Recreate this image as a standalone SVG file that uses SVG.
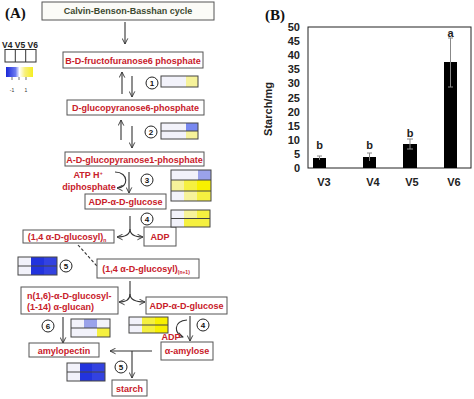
<svg xmlns="http://www.w3.org/2000/svg" width="474" height="399" viewBox="0 0 474 399">
<defs>
<style>
.box{fill:#fff;stroke:#555;stroke-width:1}
.t{font-family:"Liberation Sans",Arial,sans-serif;font-weight:bold;font-size:9px;fill:#c8202a;text-anchor:middle}
.lbl{font-family:"Liberation Serif","Times New Roman",serif;font-weight:bold;font-size:15px;fill:#111}
.ar{fill:none;stroke:#333;stroke-width:1.1;marker-end:url(#ah)}
.ln{fill:none;stroke:#333;stroke-width:1.1}
.cir{fill:#fff;stroke:#222;stroke-width:1}
.num{font-family:"Liberation Sans",Arial,sans-serif;font-weight:bold;font-size:8px;fill:#111;text-anchor:middle}
.hm{fill:none;stroke:#444;stroke-width:1}
.ax{font-family:"Liberation Sans",Arial,sans-serif;font-weight:bold;font-size:11px;fill:#222}
.w{fill:#f2f2fa}.y1{fill:#f6f29a}.y2{fill:#f5f040}.y3{fill:#f8f000}.b1{fill:#9aa2ea}.b2{fill:#2233dd}.b3{fill:#3342e0}.b4{fill:#7888f0}
</style>
<marker id="ah" viewBox="0 0 10 10" refX="9" refY="5" markerWidth="7" markerHeight="7" orient="auto" markerUnits="userSpaceOnUse">
<path d="M1,1 L9,5 L1,9" fill="none" stroke="#333" stroke-width="1.3"/>
</marker>
<linearGradient id="grad" x1="0" x2="1" y1="0" y2="0">
<stop offset="0" stop-color="#1a28d8"/><stop offset="0.35" stop-color="#6a78f0"/><stop offset="0.5" stop-color="#ffffff"/><stop offset="0.7" stop-color="#f8f07a"/><stop offset="1" stop-color="#f5ee20"/>
</linearGradient>
</defs>
<rect width="474" height="399" fill="#fff"/>

<text class="lbl" x="5" y="18">(A)</text>
<text class="lbl" x="265" y="20">(B)</text>

<g id="legend">
<text x="2" y="48" font-family="Liberation Sans,Arial,sans-serif" font-weight="bold" font-size="8.5" fill="#222">V4 V5 V6</text>
<rect x="5" y="49.5" width="31" height="12.5" fill="#fff" stroke="#333"/>
<line x1="15.3" y1="49.5" x2="15.3" y2="62" stroke="#333"/>
<line x1="25.7" y1="49.5" x2="25.7" y2="62" stroke="#333"/>
<rect x="6" y="67" width="27" height="10" fill="url(#grad)"/>
<g stroke="#333" stroke-width="0.7"><line x1="12" y1="77" x2="12" y2="80"/><line x1="19" y1="77" x2="19" y2="80"/><line x1="26" y1="77" x2="26" y2="80"/></g>
<text x="12" y="92" font-family="Liberation Sans,Arial,sans-serif" font-size="5" fill="#333" text-anchor="middle">-1</text>
<text x="26" y="92" font-family="Liberation Sans,Arial,sans-serif" font-size="5" fill="#333" text-anchor="middle">1</text>
</g>

<g id="connectors">
<path class="ar" d="M125,22 L125,44"/>
<path class="ar" d="M122,94 L122,72"/>
<path class="ar" d="M132,76 L132,97"/>
<path class="ar" d="M121,140 L121,120"/>
<path class="ar" d="M132,126 L132,148"/>
<path class="ar" d="M115,172 C129,172 129,188 117,188"/>
<path class="ar" d="M129,172 L129,193"/>
<path class="ln" d="M130,216 L130,229"/>
<path class="ar" d="M130,229 Q130,237 117,237"/>
<path class="ar" d="M130,229 Q130,237 143,237"/>
<path class="ln" d="M78,245 L97,266" stroke-dasharray="3,2"/>
<path class="ln" d="M130,281 L130,294"/>
<path class="ar" d="M130,294 Q130,302 119,302"/>
<path class="ar" d="M130,294 Q130,302 145,302"/>
<path class="ar" d="M63,317 L63,343"/>
<path class="ar" d="M190,316 L190,341"/>
<path class="ar" d="M187,320 C173,321 174,334 183,337"/>
<path class="ar" d="M152,351 L110,351"/>
<path class="ar" d="M132,351 L132,378"/>
</g>

<g id="n_calvin"><rect x="42" y="2" width="172" height="18" fill="#fbfbf7" stroke="#555"/><text x="128" y="14" class="t" style="fill:#3d4a30">Calvin-Benson-Basshan cycle</text></g>
<g id="n_f6p"><rect class="box" x="63" y="52" width="140" height="16"/><text class="t" x="133" y="63.5">B-D-fructofuranose6 phosphate</text></g>
<g id="n_g6p"><rect class="box" x="67" y="100" width="137" height="15"/><text class="t" x="135.5" y="111">D-glucopyranose6-phosphate</text></g>
<g id="n_g1p"><rect class="box" x="65" y="152" width="139" height="14"/><text class="t" x="134.5" y="162.5">A-D-glucopyranose1-phosphate</text></g>
<g id="n_atp"><text class="t" x="88" y="178">ATP H<tspan font-size="5" dy="-3">+</tspan></text><text class="t" x="89" y="190">diphosphate</text></g>
<g id="n_adpg"><rect class="box" x="85" y="194" width="81" height="15"/><text class="t" x="125.5" y="205">ADP-α-D-glucose</text></g>
<g id="n_glcn"><rect class="box" x="23" y="230" width="91" height="13"/><text class="t" x="67" y="240">(1,4 α-D-glucosyl)<tspan font-size="5" dy="2">n</tspan></text></g>
<g id="n_adp"><rect class="box" x="144" y="227" width="32" height="19"/><text class="t" x="160" y="240">ADP</text></g>
<g id="n_glcn1"><rect class="box" x="97" y="259" width="102" height="19"/><text class="t" x="146" y="271.5">(1,4 α-D-glucosyl)<tspan font-size="5" dy="2">(n+1)</tspan></text></g>
<g id="n_glucan"><rect class="box" x="21" y="287" width="97" height="27"/><text class="t" x="27" y="299" style="text-anchor:start">n(1,6)-α-D-glucosyl-</text><text class="t" x="27" y="310" style="text-anchor:start">(1-14) α-glucan)</text></g>
<g id="n_adpg2"><rect class="box" x="146" y="297" width="81" height="17"/><text class="t" x="186.5" y="309">ADP-α-D-glucose</text></g>
<g id="n_adp2"><text class="t" x="171" y="340">ADP</text></g>
<g id="n_amylopectin"><rect class="box" x="29" y="343" width="70" height="14"/><text class="t" x="64" y="353.5">amylopectin</text></g>
<g id="n_amylose"><rect class="box" x="161" y="342" width="52" height="18"/><text class="t" x="187" y="354">α-amylose</text></g>
<g id="n_starch"><rect class="box" x="112" y="380" width="35" height="16"/><text class="t" x="129.5" y="391.5">starch</text></g>

<g id="steps">
<circle class="cir" cx="152" cy="83" r="6"/><text class="num" x="152" y="86">1</text>
<circle class="cir" cx="151" cy="132" r="6"/><text class="num" x="151" y="135">2</text>
<circle class="cir" cx="147" cy="180" r="6"/><text class="num" x="147" y="183">3</text>
<circle class="cir" cx="147" cy="219" r="6"/><text class="num" x="147" y="222">4</text>
<circle class="cir" cx="66" cy="266" r="6"/><text class="num" x="66" y="269">5</text>
<circle class="cir" cx="48" cy="326" r="6"/><text class="num" x="48" y="329">6</text>
<circle class="cir" cx="203" cy="325" r="6"/><text class="num" x="203" y="328">4</text>
<circle class="cir" cx="121" cy="367" r="6"/><text class="num" x="121" y="370">5</text>
</g>

<g id="heat1"><rect class="w" x="161" y="76" width="25" height="11"/><rect class="y1" x="186" y="76" width="12" height="11"/><rect class="hm" x="161" y="76" width="37" height="11"/></g>
<g id="heat2"><rect class="w" x="161" y="123" width="37" height="16"/><rect class="b4" x="186" y="123" width="12" height="8"/><rect class="y1" x="186" y="131" width="12" height="8"/><rect class="hm" x="161" y="123" width="37" height="16"/><line x1="161" y1="131" x2="198" y2="131" stroke="#444"/></g>
<g id="heat3"><rect class="w" x="171" y="170" width="40" height="31"/><rect class="b1" x="198" y="170" width="13" height="10"/><rect class="y1" x="171" y="180" width="13" height="11"/><rect class="y2" x="184" y="180" width="13" height="11"/><rect class="y3" x="197" y="180" width="14" height="11"/><rect class="y1" x="184" y="191" width="13" height="10"/><rect class="y2" x="197" y="191" width="14" height="10"/><rect class="hm" x="171" y="170" width="40" height="31"/><line x1="171" y1="180" x2="211" y2="180" stroke="#444"/><line x1="171" y1="191" x2="211" y2="191" stroke="#444"/></g>
<g id="heat4"><rect class="w" x="171" y="210" width="39" height="17"/><rect class="y1" x="184" y="210" width="13" height="8.5"/><rect class="y2" x="197" y="210" width="13" height="8.5"/><rect class="y2" x="184" y="218.5" width="13" height="8.5"/><rect class="y2" x="197" y="218.5" width="13" height="8.5"/><rect class="hm" x="171" y="210" width="39" height="17"/><line x1="171" y1="218.5" x2="210" y2="218.5" stroke="#444"/></g>
<g id="heat5"><rect class="w" x="18" y="257" width="13" height="18"/><rect class="b2" x="31" y="257" width="13" height="18"/><rect class="b3" x="44" y="257" width="13" height="18"/><rect class="hm" x="18" y="257" width="39" height="18"/><line x1="18" y1="266" x2="57" y2="266" stroke="#444"/></g>
<g id="heat6"><rect class="w" x="71" y="319" width="39" height="18"/><rect class="b1" x="84" y="319" width="13" height="9"/><rect class="y2" x="97" y="328" width="13" height="9"/><rect class="hm" x="71" y="319" width="39" height="18"/><line x1="71" y1="328" x2="110" y2="328" stroke="#444"/></g>
<g id="heat7"><rect class="w" x="129" y="317" width="13" height="16"/><rect class="y2" x="142" y="317" width="13" height="16"/><rect class="y3" x="155" y="317" width="13" height="16"/><rect class="hm" x="129" y="317" width="39" height="16"/><line x1="129" y1="325" x2="168" y2="325" stroke="#444"/></g>
<g id="heat8"><rect class="w" x="67" y="363" width="13" height="18"/><rect class="b2" x="80" y="363" width="12" height="18"/><rect class="b3" x="92" y="363" width="13" height="18"/><rect class="hm" x="67" y="363" width="38" height="18"/><line x1="67" y1="372" x2="105" y2="372" stroke="#444"/></g>

<g id="chart">
<rect x="308" y="27" width="163" height="141" fill="none" stroke="#222" stroke-width="1"/>
<g class="ax" text-anchor="end">
<text x="300" y="31">50</text><text x="300" y="45">45</text><text x="300" y="59">40</text><text x="300" y="73">35</text><text x="300" y="87">30</text><text x="300" y="102">25</text><text x="300" y="116">20</text><text x="300" y="130">15</text><text x="300" y="144">10</text><text x="300" y="158">5</text><text x="300" y="172">0</text>
</g>
<text class="ax" transform="translate(272,109) rotate(-90)" text-anchor="middle">Starch/mg</text>
<rect x="313" y="158" width="13" height="10" fill="#000"/>
<rect x="363" y="157" width="13" height="11" fill="#000"/>
<rect x="403" y="144" width="14" height="24" fill="#000"/>
<rect x="444" y="62" width="13" height="106" fill="#000"/>
<g stroke="#888" stroke-width="1">
<line x1="319.5" y1="156" x2="319.5" y2="160"/><line x1="317" y1="156" x2="322" y2="156"/>
<line x1="369.5" y1="153" x2="369.5" y2="161"/><line x1="367" y1="153" x2="372" y2="153"/>
<line x1="410" y1="139" x2="410" y2="149"/><line x1="407" y1="139" x2="413" y2="139"/><line x1="407" y1="149" x2="413" y2="149"/>
<line x1="450.5" y1="38" x2="450.5" y2="87"/><line x1="448" y1="38" x2="453" y2="38"/><line x1="448" y1="87" x2="453" y2="87"/>
</g>
<g class="ax" text-anchor="middle" font-size="12">
<text x="319.5" y="149">b</text><text x="369.5" y="149">b</text><text x="410" y="137">b</text><text x="450.5" y="37">a</text>
<text x="324" y="186">V3</text><text x="373" y="186">V4</text><text x="412" y="186">V5</text><text x="454" y="186">V6</text>
</g>
</g>
</svg>
